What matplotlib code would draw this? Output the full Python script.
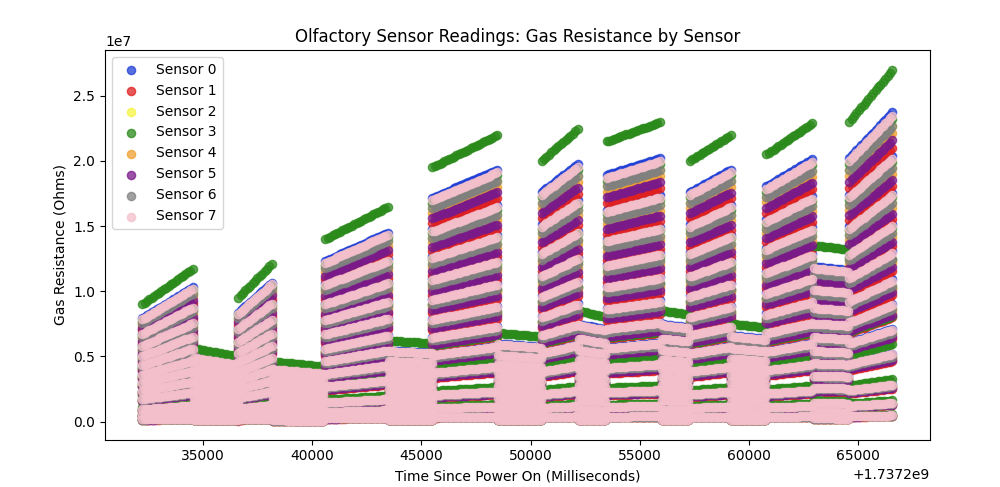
import numpy as np
import matplotlib.pyplot as plt

offset = 1.7372e9

# segments of the heater cycle (ms since offset) and top reading at start / end of each
seg_start = [32200, 34600, 36600, 38200, 40600, 43500, 45500, 48500, 50500, 52200, 53500, 56000, 57300, 59200, 60800, 63000, 64600]
seg_end   = [34600, 36600, 38200, 40600, 43500, 45500, 48500, 50500, 52200, 53500, 56000, 57300, 59200, 60800, 63000, 64600, 66600]
seg_lo    = [9.0e6, 5.6e6, 9.5e6, 4.6e6, 14.0e6, 6.2e6, 19.5e6, 6.8e6, 20.0e6, 8.5e6, 21.5e6, 8.5e6, 20.0e6, 7.5e6, 20.5e6, 13.5e6, 23.0e6]
seg_hi    = [11.8e6, 5.0e6, 12.2e6, 4.2e6, 16.5e6, 6.0e6, 22.0e6, 6.5e6, 22.5e6, 8.0e6, 23.0e6, 8.2e6, 22.0e6, 7.2e6, 23.0e6, 13.2e6, 27.0e6]

sensor_names = ["Sensor 0", "Sensor 1", "Sensor 2", "Sensor 3", "Sensor 4", "Sensor 5", "Sensor 6", "Sensor 7"]
sensor_colors = ["#1f3fd6", "#e02020", "#f5f542", "#2a8a1a", "#f0a030", "#7a1a8a", "#808080", "#f4c0cc"]
sensor_ratio = [0.88, 0.78, 0.84, 1.0, 0.82, 0.80, 0.84, 0.87]
# relative level of each heater step
step_frac = [1.0, 0.86, 0.74, 0.64, 0.55, 0.46, 0.38, 0.30, 0.22, 0.12, 0.06, 0.02]

fig = plt.figure(figsize=(10, 4.87), dpi=100)
ax = fig.add_axes([0.105, 0.097, 0.825, 0.80])

for s in range(8):
    xs, ys = [], []
    for a, b, lo, hi in zip(seg_start, seg_end, seg_lo, seg_hi):
        t = np.arange(a, b, 110)
        top = lo + (hi - lo) * (t - a) / (b - a)
        for f in step_frac:
            xs.append(t)
            ys.append(top * sensor_ratio[s] * f)
    ax.scatter(np.concatenate(xs) + offset, np.concatenate(ys), color=sensor_colors[s],
               alpha=0.75, s=35, label=sensor_names[s])

ax.set_xlim(offset + 30500, offset + 68300)
ax.set_ylim(-1.4e6, 2.85e7)
ax.set_xticks([offset + v for v in range(35000, 66000, 5000)])
ax.set_title("Olfactory Sensor Readings: Gas Resistance by Sensor")
ax.set_xlabel("Time Since Power On (Milliseconds)")
ax.set_ylabel("Gas Resistance (Ohms)")
ax.legend(loc="upper left")
fig.savefig("out.png")
